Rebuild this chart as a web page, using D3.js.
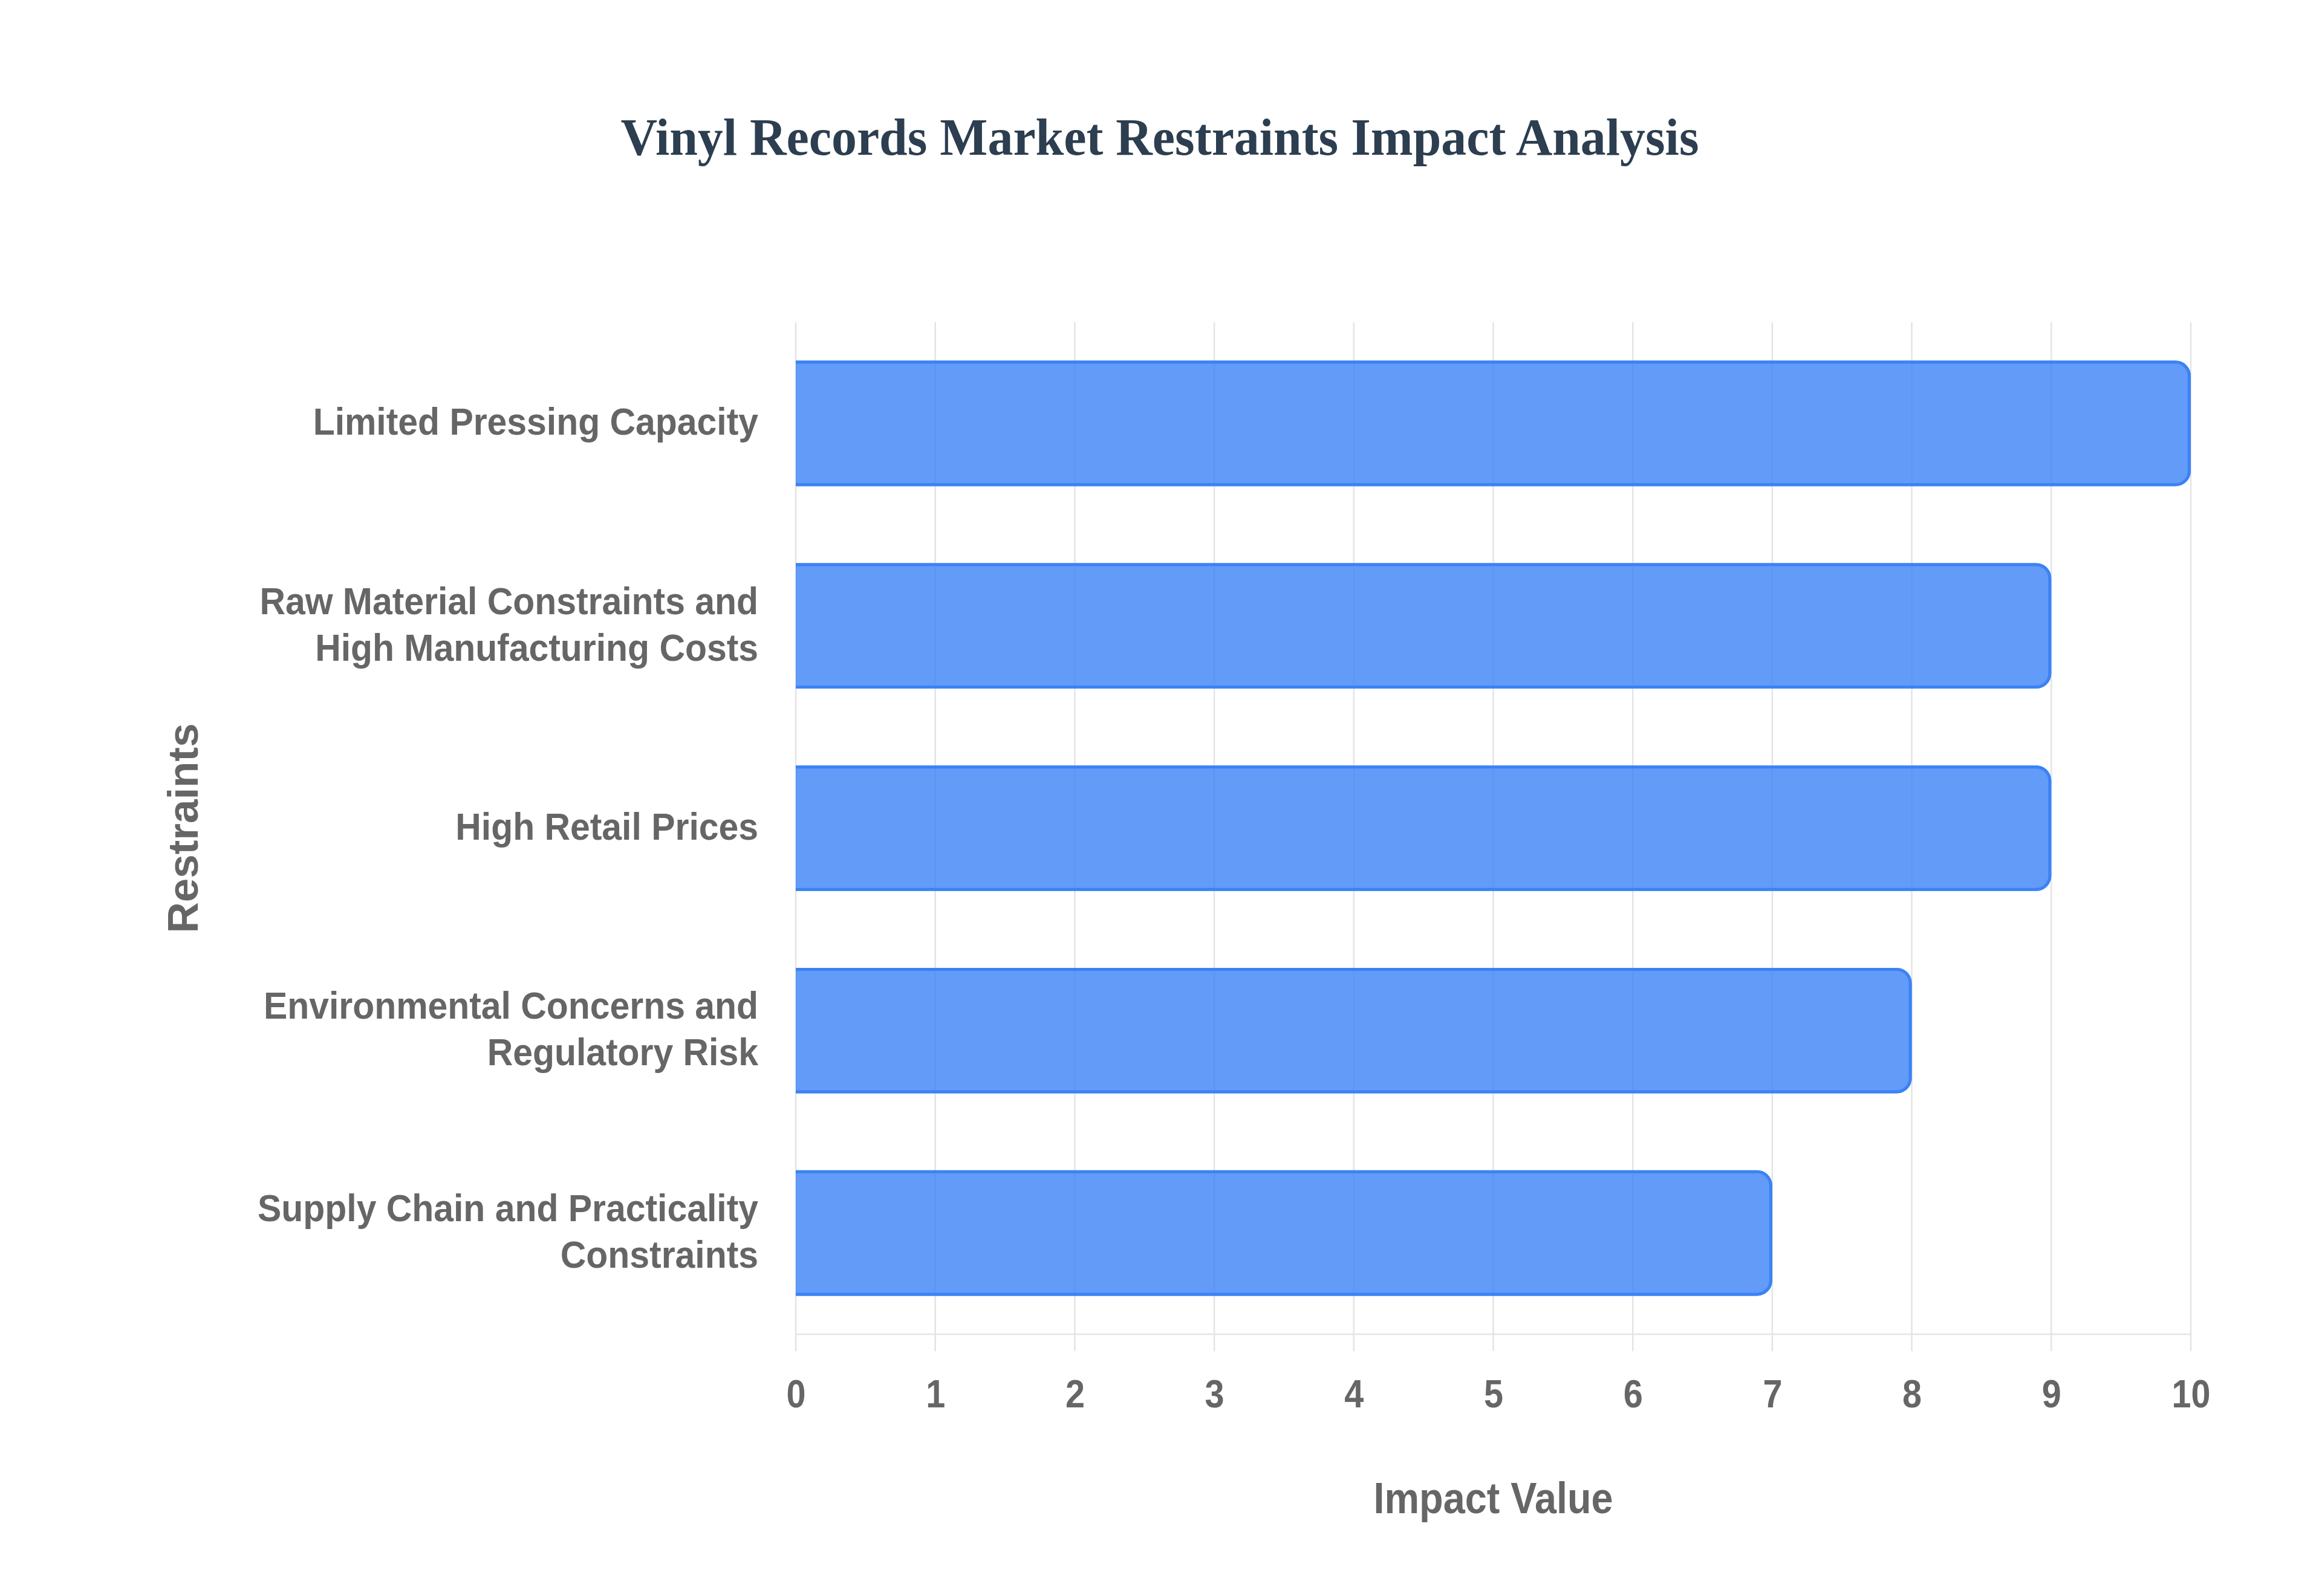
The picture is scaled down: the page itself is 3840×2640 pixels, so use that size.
<!DOCTYPE html>
<html>
<head>
<meta charset="utf-8">
<script src="https://cdn.jsdelivr.net/npm/d3@7"></script>
<style>
  html, body { margin: 0; padding: 0; background: #fff; }
  svg { display: block; }
</style>
</head>
<body>
<div id="chart"></div>
<script>
// chart data
const restraints = [
    ["Limited Pressing Capacity"],
    ["Raw Material Constraints and", "High Manufacturing Costs"],
    ["High Retail Prices"],
    ["Environmental Concerns and", "Regulatory Risk"],
    ["Supply Chain and Practicality", "Constraints"]
];
const impactValues = [10, 9, 9, 8, 7];
const xTicks = [0, 1, 2, 3, 4, 5, 6, 7, 8, 9, 10];

const W = 3840, H = 2640;
const margin = { top: 533, right: 217, bottom: 433, left: 1316 };
const plotW = W - margin.left - margin.right;
const plotH = H - margin.top - margin.bottom;
const sx = 0.9; // reference text is slightly squeezed horizontally
const sans = "'Liberation Sans', Arial, Helvetica, sans-serif";
const grey = "#666666";

const svg = d3.select("#chart")
    .append("svg")
    .attr("width", W)
    .attr("height", H);

svg.append("rect").attr("width", W).attr("height", H).attr("fill", "#fff");

// title
svg.append("text")
    .attr("transform", `translate(${W / 2 - 2}, 256) scale(0.975,1)`)
    .attr("text-anchor", "middle")
    .attr("font-family", "'Liberation Serif', 'Times New Roman', serif")
    .attr("font-weight", "bold")
    .attr("font-size", 86)
    .attr("fill", "#2c3e50")
    .text("Vinyl Records Market Restraints Impact Analysis");

const g = svg.append("g")
    .attr("transform", `translate(${margin.left},${margin.top})`);

const x = d3.scaleLinear().domain([0, 10]).range([0, plotW]);
const y = d3.scaleBand()
    .domain(restraints.map((d, i) => i))
    .range([0, plotH])
    .paddingInner(0.38)
    .paddingOuter(0.19);

// vertical grid lines (with the little tick below the axis)
g.append("g")
    .selectAll("line")
    .data(xTicks)
    .enter()
    .append("line")
    .attr("x1", d => x(d))
    .attr("x2", d => x(d))
    .attr("y1", 0)
    .attr("y2", plotH + 28)
    .attr("stroke", "#e4e4e4")
    .attr("stroke-width", 2.5);

// bottom axis line
g.append("line")
    .attr("x1", 0)
    .attr("x2", plotW)
    .attr("y1", plotH)
    .attr("y2", plotH)
    .attr("stroke", "#e4e4e4")
    .attr("stroke-width", 2.5);

// bars: rounded on the right end, no border on the left
const r = 25, bw = 5;
function barFill(w, h) {
    const rr = Math.min(r, w / 2, h / 2);
    return `M0,0 H${w - rr} A${rr},${rr} 0 0 1 ${w},${rr} V${h - rr} A${rr},${rr} 0 0 1 ${w - rr},${h} H0 Z`;
}
function barBorder(w, h) {
    const o = bw / 2;
    const rr = Math.min(r, w / 2, h / 2) - o;
    return `M0,${o} H${w - o - rr} A${rr},${rr} 0 0 1 ${w - o},${o + rr} V${h - o - rr} A${rr},${rr} 0 0 1 ${w - o - rr},${h - o} H0`;
}

const bars = g.selectAll("g.bar")
    .data(impactValues)
    .enter()
    .append("g")
    .attr("class", "bar")
    .attr("transform", (d, i) => `translate(${x(0)},${y(i)})`);

bars.append("path")
    .attr("d", d => barFill(x(d) - x(0), y.bandwidth()))
    .attr("fill", "rgba(59,130,246,0.8)");

bars.append("path")
    .attr("d", d => barBorder(x(d) - x(0), y.bandwidth()))
    .attr("fill", "none")
    .attr("stroke", "#3b82f6")
    .attr("stroke-width", bw);

// x axis tick labels
const xAxis = g.append("g")
    .attr("transform", `translate(0,${plotH})`)
    .call(d3.axisBottom(x).tickValues(xTicks).tickSize(0).tickFormat(d3.format("d")));
xAxis.select(".domain").remove();
xAxis.selectAll("text")
    .attr("y", 121)
    .attr("dy", null)
    .attr("transform", `scale(${sx},1)`)
    .attr("font-family", sans)
    .attr("font-weight", "bold")
    .attr("font-size", 64)
    .attr("fill", grey);

// y axis category labels (multi-line)
const yAxis = g.append("g")
    .call(d3.axisLeft(y).tickSize(0).tickFormat(""));
yAxis.select(".domain").remove();
yAxis.selectAll(".tick").each(function (d) {
    const lines = restraints[d];
    const t = d3.select(this).append("text")
        .attr("transform", "translate(-62,0) scale(0.935,1)")
        .attr("text-anchor", "end")
        .attr("font-family", sans)
        .attr("font-weight", "bold")
        .attr("font-size", 63)
        .attr("fill", grey);
    lines.forEach((line, k) => {
        t.append("tspan")
            .attr("x", 0)
            .attr("y", 19 + (k - (lines.length - 1) / 2) * 77)
            .text(line);
    });
});

// axis titles
svg.append("text")
    .attr("transform", `translate(${margin.left + plotW / 2}, 2503) scale(${sx},1)`)
    .attr("text-anchor", "middle")
    .attr("font-family", sans)
    .attr("font-weight", "bold")
    .attr("font-size", 72)
    .attr("fill", grey)
    .text("Impact Value");

svg.append("text")
    .attr("transform", `translate(327, ${margin.top + plotH / 2}) rotate(-90)`)
    .attr("text-anchor", "middle")
    .attr("font-family", sans)
    .attr("font-weight", "bold")
    .attr("font-size", 71)
    .attr("fill", grey)
    .text("Restraints");
</script>
</body>
</html>
